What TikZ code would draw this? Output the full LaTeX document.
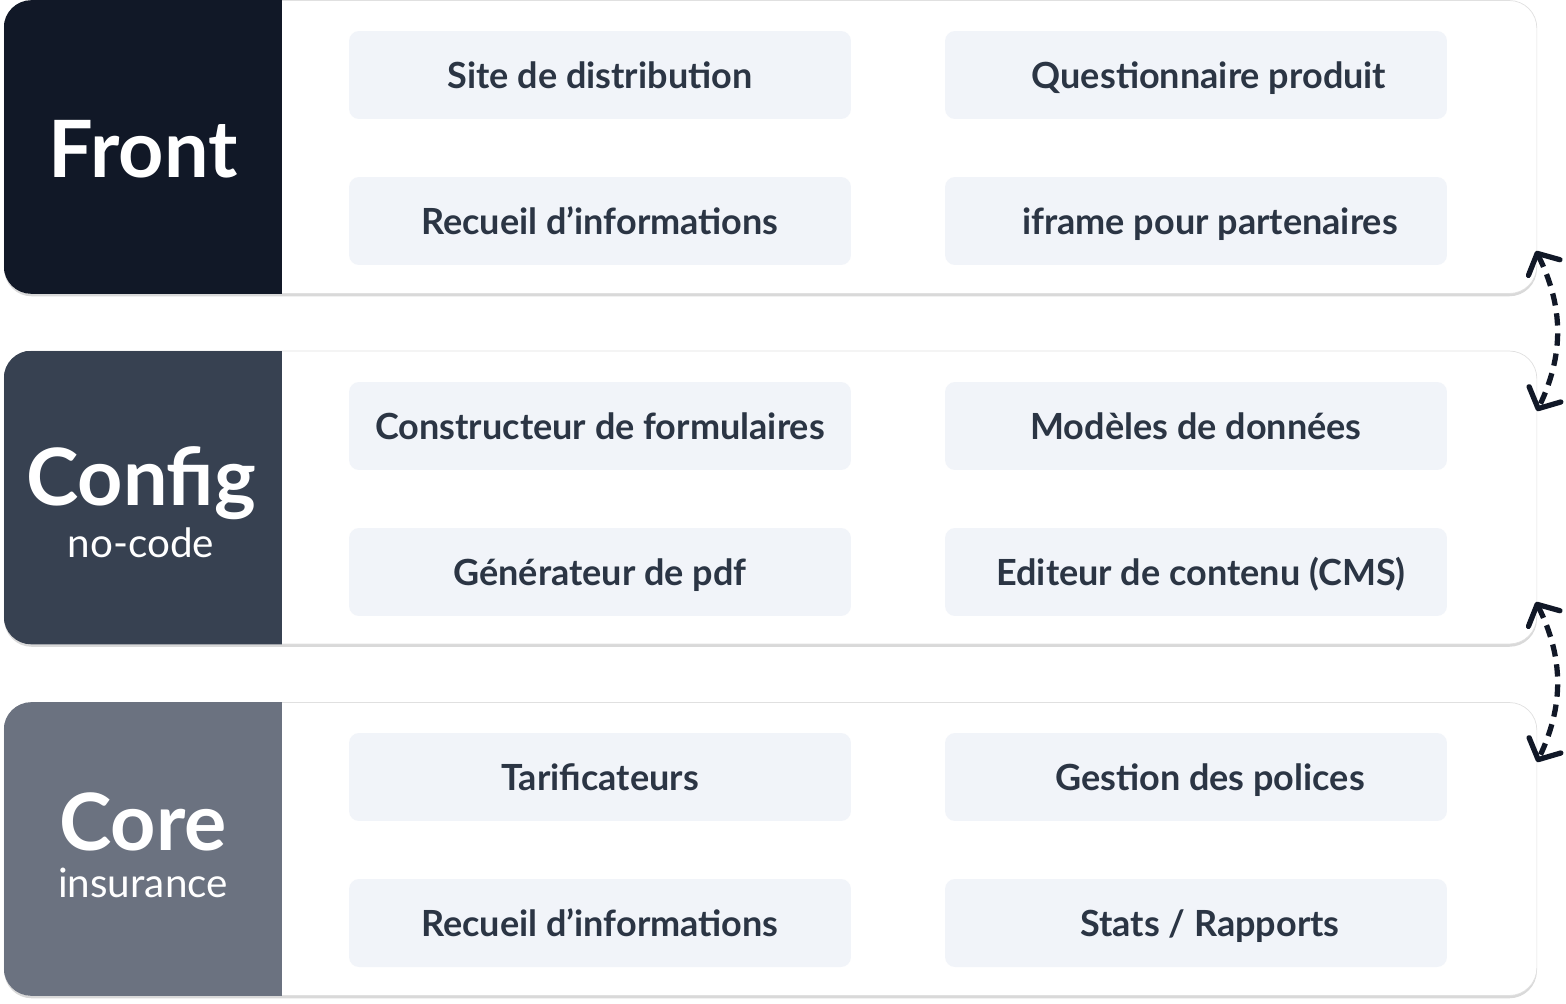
\documentclass[tikz,border=0pt]{standalone}
\usepackage{fontspec}
\setmainfont{Lato}
\usetikzlibrary{arrows.meta,shadows}

\definecolor{frontcol}{HTML}{111827}
\definecolor{configcol}{HTML}{374151}
\definecolor{corecol}{HTML}{6B7280}
\definecolor{brickfill}{HTML}{F1F4F9}
\definecolor{bricktext}{HTML}{2B3544}
\definecolor{linkcol}{HTML}{111827}

\begin{document}
\begin{tikzpicture}[x=0.02cm,y=-0.02cm,
    band/.style={draw=black!12, fill=white, rounded corners=0.55cm,
      minimum width=30.66cm, minimum height=5.86cm,
      drop shadow={shadow xshift=0pt, shadow yshift=-1.6pt, opacity=0.25, fill=black!60}},
    brick/.style={fill=brickfill, rounded corners=0.2cm, minimum width=10.04cm,
      minimum height=1.76cm, text height=14.8pt, text depth=0pt,
      text=bricktext, font=\bfseries\fontsize{20.5}{24}\selectfont},
    nudge/.style={execute at begin node={\hspace*{#1}}},
    title/.style={anchor=base, text=white, inner sep=0pt, font=\bfseries\fontsize{45}{50}\selectfont},
    subtitle/.style={anchor=base, text=white, inner sep=0pt, font=\fontsize{23}{26}\selectfont},
    barb/.tip={Straight Barb[length=9pt,width=20pt,line cap=round,line join=round]},
    link/.style={linkcol, line width=3pt, dash pattern=on 7pt off 4.5pt, barb-barb}]
  \useasboundingbox (0,0) rectangle (1566,1004);

  % bands
  \node[band] (front) at (770.5,147) {};
  \node[band] (config) at (770.5,497.5) {};
  \node[band] (core) at (770.5,849) {};

  % left panels
  \begin{scope}
    \clip[rounded corners=0.55cm] (front.north west) rectangle (front.south east);
    \fill[frontcol] (front.north west) rectangle (282,300);
  \end{scope}
  \begin{scope}
    \clip[rounded corners=0.55cm] (config.north west) rectangle (config.south east);
    \fill[configcol] (config.north west) rectangle (282,650);
  \end{scope}
  \begin{scope}
    \clip[rounded corners=0.55cm] (core.north west) rectangle (core.south east);
    \fill[corecol] (core.north west) rectangle (282,1000);
  \end{scope}

  \node[title] (fronttitle) at (143,177) {Front};
  \node[title] (configtitle) at (141,505) {Config};
  \node[subtitle] (configsub) at (141,557) {no-code};
  \node[title] (coretitle) at (143,850) {Core};
  \node[subtitle] (coresub) at (143,897) {insurance};

  % Front
  \node[brick] (site) at (600,75) {Site de distribution};
  \node[brick, nudge=0.52cm] (questionnaire) at (1196,75) {Questionnaire produit};
  \node[brick] (recueilfront) at (600,221) {Recueil d’informations};
  \node[brick, nudge=0.56cm] (iframe) at (1196,221) {iframe pour partenaires};

  % Config
  \node[brick] (constructeur) at (600,426) {Constructeur de formulaires};
  \node[brick] (modeles) at (1196,426) {Modèles de données};
  \node[brick] (generateur) at (600,572) {Générateur de pdf};
  \node[brick, nudge=0.2cm] (editeur) at (1196,572) {Editeur de contenu (CMS)};

  % Core
  \node[brick] (tarif) at (600,777) {Tarificateurs};
  \node[brick, nudge=0.56cm] (gestion) at (1196,777) {Gestion des polices};
  \node[brick] (recueilcore) at (600,923) {Recueil d’informations};
  \node[brick, nudge=0.56cm] (stats) at (1196,923) {Stats / Rapports};

  % links between layers
  \coordinate (frontlink) at (1536,251);
  \coordinate (configtop) at (1537,411);
  \coordinate (configlink) at (1536,602);
  \coordinate (coretop) at (1537,762);
  \draw[link] (frontlink) to[bend left=26] (configtop);
  \draw[link] (configlink) to[bend left=26] (coretop);

\end{tikzpicture}
\end{document}
